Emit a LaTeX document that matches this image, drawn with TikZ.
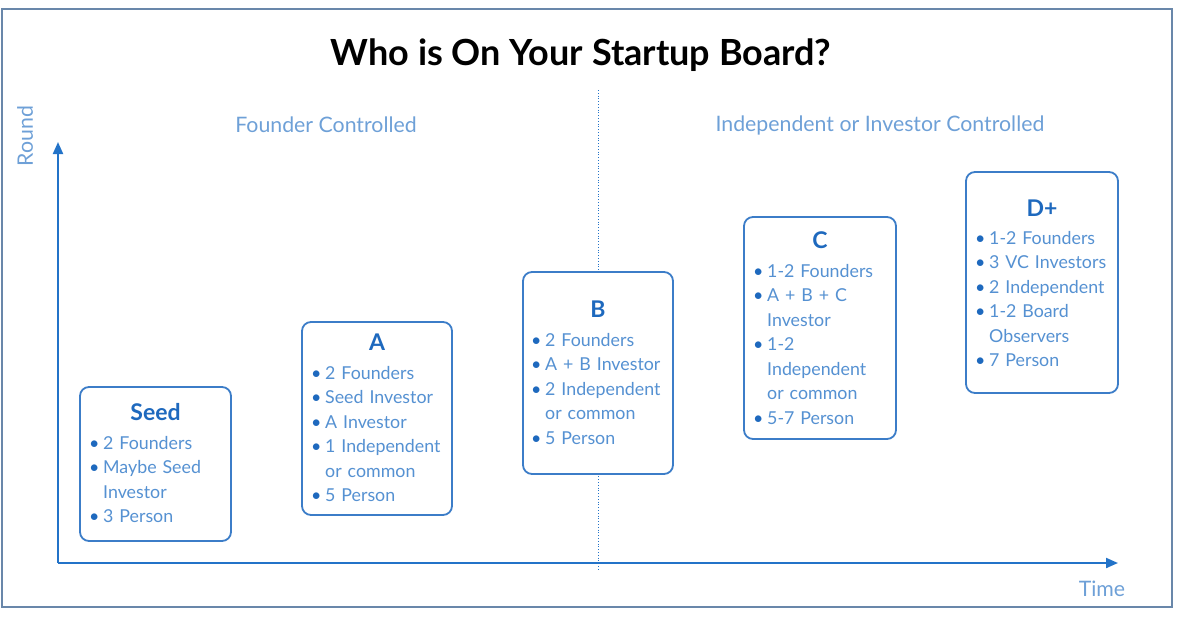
\documentclass[tikz,border=0pt]{standalone}
\usepackage{fontspec}
\setmainfont{Lato}
\usetikzlibrary{arrows.meta}
\definecolor{framec}{RGB}{105,135,170}
\definecolor{axisc}{RGB}{35,115,200}
\definecolor{boxc}{RGB}{60,125,200}
\definecolor{txtc}{RGB}{85,145,210}
\definecolor{headc}{RGB}{30,105,190}
\definecolor{lblc}{RGB}{110,160,215}
\newcommand{\bitem}[1]{\makebox[14pt][l]{\textcolor{headc}{\textbullet}}#1\par}
\newcommand{\bcont}[1]{\makebox[14pt]{}#1\par}
\tikzset{
  board/.style={draw=boxc, line width=1.8pt, rounded corners=9pt, fill=white, inner sep=0pt},
  head/.style={font=\fontsize{23}{23}\selectfont\bfseries, text=headc, inner sep=0pt},
  blist/.style={anchor=base west, inner sep=0pt, text=txtc, text width=140pt, font=\fontsize{17.8}{24.5}\selectfont, align=left},
  seclbl/.style={font=\fontsize{21.3}{21.3}\selectfont, text=lblc, inner sep=0pt},
  axis/.style={draw=axisc, line width=2pt, -{Triangle[length=12pt,width=10pt]}}
}
\begin{document}
\begin{tikzpicture}[x=1pt,y=-1pt]
\useasboundingbox (0,0) rectangle (1177,619);
\draw[framec, line width=2pt] (2,9) rectangle (1172,607);
\node[font=\fontsize{36}{36}\selectfont\bfseries, inner sep=0pt] (title) at (581,55) {Who is On Your Startup Board?};
\node[seclbl, rotate=90] (round) at (25,136) {Round};
\node[seclbl] (fc) at (326,125) {Founder Controlled};
\node[seclbl] (ic) at (880,125) {Independent or Investor Controlled};
\node[seclbl] (time) at (1102,589) {Time};
\coordinate (origin) at (58,563);
\coordinate (ytip) at (58,142);
\coordinate (xtip) at (1118,563);
\coordinate (dtop) at (598,90);
\coordinate (dbot) at (598,570);
\draw[axisc, line width=0.8pt, dotted] (dtop) -- (dbot);
\draw[axis] (origin) -- (ytip);
\draw[axis] (origin) -- (xtip);
% Seed
\node[board, minimum width=151pt, minimum height=154pt] (seed) at (155.5,464) {};
\node[head] (seedh) at (155.5,412) {Seed};
\node[blist] (seedl) at (89,449) {\bitem{2 Founders}\bitem{Maybe Seed}\bcont{Investor}\bitem{3 Person}};
% A
\node[board, minimum width=150pt, minimum height=193pt] (a) at (377,418.5) {};
\node[head] (ah) at (377,342) {A};
\node[blist] (al) at (311,379) {\bitem{2 Founders}\bitem{Seed Investor}\bitem{A Investor}\bitem{1 Independent}\bcont{or common}\bitem{5 Person}};
% B
\node[board, minimum width=150pt, minimum height=202pt] (b) at (598,373) {};
\node[head] (bh) at (598,309) {B};
\node[blist] (bl) at (531,346) {\bitem{2 Founders}\bitem{A + B Investor}\bitem{2 Independent}\bcont{or common}\bitem{5 Person}};
% C
\node[board, minimum width=152pt, minimum height=222pt] (c) at (820,328) {};
\node[head] (ch) at (820,240) {C};
\node[blist] (cl) at (753,277) {\bitem{1-2 Founders}\bitem{A + B + C}\bcont{Investor}\bitem{1-2}\bcont{Independent}\bcont{or common}\bitem{5-7 Person}};
% D+
\node[board, minimum width=152pt, minimum height=221pt] (d) at (1042,282.5) {};
\node[head] (dh) at (1042,208) {D+};
\node[blist] (dl) at (975,244) {\bitem{1-2 Founders}\bitem{3 VC Investors}\bitem{2 Independent}\bitem{1-2 Board}\bcont{Observers}\bitem{7 Person}};
\end{tikzpicture}
\end{document}
